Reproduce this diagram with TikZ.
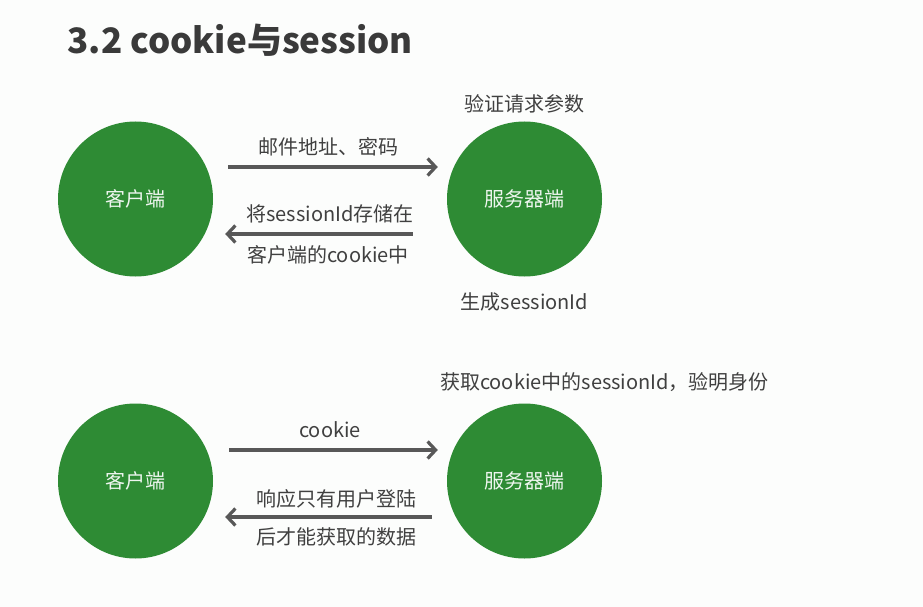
\documentclass[tikz,border=0pt]{standalone}
\usepackage{fontspec}
\setmainfont{Noto Sans CJK SC}
\usetikzlibrary{arrows.meta, positioning}

\definecolor{leaf}{RGB}{46,139,52}
\definecolor{ink}{RGB}{64,64,64}
\definecolor{wire}{RGB}{88,88,88}
\definecolor{paper}{RGB}{252,253,252}

\tikzset{
    peer/.style = {circle, fill=leaf, minimum size=155pt, inner sep=0pt,
                   text=white!92!leaf, font=\fontsize{20}{24}\selectfont},
    msg/.style = {text=ink, inner sep=0pt, font=\fontsize{20}{24}\selectfont},
    flow/.style = {-{Straight Barb[length=8pt, width=17pt]}, line width=3.2pt, color=wire}
}

\begin{document}
\begin{tikzpicture}[node distance = 389pt, on grid]

    \fill [paper] (0,0) rectangle (923pt,-607pt);
    \useasboundingbox (0,0) rectangle (923pt,-607pt);

    \node (title) [anchor=west, text=ink!90!black, font=\fontsize{35}{40}\selectfont\bfseries]
        at (64pt,-40pt) {3.2 cookie与session};

    % login round
    \node (c1) [peer] at (135.5pt,-199pt) {客户端};
    \node (s1) [peer, right = of c1] {服务器端};
    % later requests
    \node (c2) [peer, below = 282pt of c1] {客户端};
    \node (s2) [peer, right = of c2] {服务器端};

    \node (check) [msg, above = 95pt of s1] {验证请求参数};
    \node (make)  [msg, below = 103pt of s1] {生成sessionId};
    \node (read)  [msg, above = 99pt of s2, xshift=80pt] {获取cookie中的sessionId，验明身份};

    \path [flow]
        ([yshift=32pt]c1.east) edge [shorten <=15pt, shorten >=9pt]
            node [msg, yshift=20pt, xshift=-2pt] {邮件地址、密码} ([yshift=32pt]s1.west)
        ([yshift=-35pt]s1.west) edge [shorten <=34pt, shorten >=12pt]
            node [msg, yshift=20pt] {将sessionId存储在}
            node [msg, yshift=-21pt, xshift=-2pt] {客户端的cookie中} ([yshift=-35pt]c1.east)
        ([yshift=31pt]c2.east) edge [shorten <=16pt, shorten >=9pt]
            node [msg, yshift=20pt] {cookie} ([yshift=31pt]s2.west)
        ([yshift=-36pt]s2.west) edge [shorten <=15pt, shorten >=12pt]
            node [msg, yshift=18pt, xshift=6pt] {响应只有用户登陆}
            node [msg, yshift=-20pt, xshift=6pt] {后才能获取的数据} ([yshift=-36pt]c2.east);

\end{tikzpicture}
\end{document}
